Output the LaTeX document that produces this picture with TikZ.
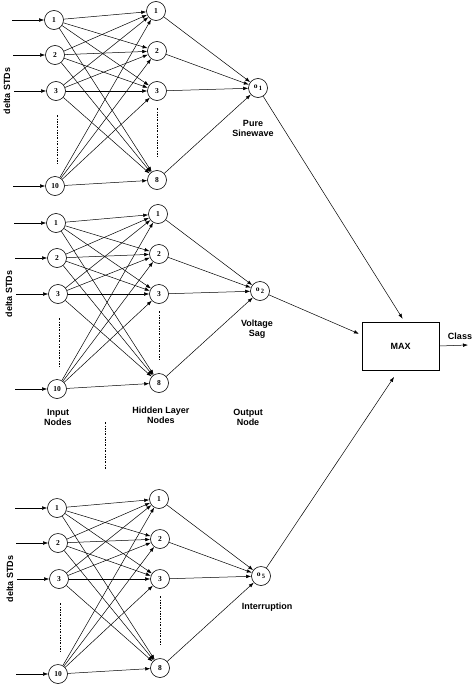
\documentclass[tikz,border=0pt]{standalone}
\usepackage{fontspec}
\setmainfont{Liberation Serif}
\setsansfont{Liberation Sans}
\usetikzlibrary{arrows.meta,calc}
\begin{document}
\begin{tikzpicture}[x=1pt,y=-1pt,
  neuron/.style={circle,draw,line width=0.6pt,minimum size=19pt,inner sep=0pt,font=\fontsize{7.5}{8}\selectfont\bfseries},
  conn/.style={line width=0.5pt,-{Latex[length=5pt,width=3.6pt]}},
  lab/.style={font=\fontsize{9}{10}\selectfont\sffamily\bfseries,align=center,inner sep=0pt},
  dots/.style={line width=0.6pt,dash pattern=on 2pt off 1.5pt on 0.6pt off 1.5pt}]
\useasboundingbox (0,0) rectangle (474,685);
\fill[white] (0,0) rectangle (474,685);

\foreach \b/\dx/\dy/\os in {1/0/0/1, 2/2/203/2, 3/3/488/5} {
  \begin{scope}[shift={(\dx,\dy)}]
    \node[neuron] (i\b-1) at (54,20) {1};
    \node[neuron] (i\b-2) at (55,55) {2};
    \node[neuron] (i\b-3) at (56,91) {3};
    \node[neuron] (i\b-10) at (55,186) {10};
    \node[neuron] (h\b-1) at (156,11) {1};
    \node[neuron] (h\b-2) at (157,51) {2};
    \node[neuron] (h\b-3) at (157,91) {3};
    \node[neuron] (h\b-8) at (157,180) {8};
    \node[neuron] (o\b) at (258,88) {\raisebox{1pt}{o}\,\raisebox{-1pt}{\fontsize{6.5}{7}\selectfont\os}};
    \node[lab,rotate=90] (d\b) at (7,91) {delta STDs};
    \draw[dots] (57,115) -- (57,165);
    \draw[dots] (157,108) -- (157,158);
    \foreach \a in {1,2,3,10} {
      \path (i\b-\a.west) ++(-32,0) coordinate (s\b-\a);
      \draw[conn] (s\b-\a) -- (i\b-\a);
      \foreach \h in {1,2,3,8} {
        \draw[conn] (i\b-\a) -- (h\b-\h);
      }
    }
    \foreach \h in {1,2,3,8} {
      \draw[conn] (h\b-\h) -- (o\b);
    }
  \end{scope}
}

\node[lab] (l1) at (253,128) {Pure\\Sinewave};
\node[lab] (l2) at (257,329) {Voltage\\Sag};
\node[lab] (l3) at (267,607) {Interruption};
\node[lab] (l4) at (58,417) {Input\\Nodes};
\node[lab] (l5) at (161,415) {Hidden Layer\\Nodes};
\node[lab] (l6) at (248,417) {Output\\Node};
\draw[dots] (105,422) -- (105,470);

\node[draw,line width=0.6pt,minimum width=77pt,minimum height=48pt,inner sep=0pt,font=\fontsize{9}{10}\selectfont\sffamily\bfseries] (max) at (400.5,346) {MAX};
\draw[conn,shorten >=3.5pt] (o1) -- ($(max.north)+(4,0)$);
\draw[conn,shorten >=3pt] (o2) -- ([yshift=11pt]max.west);
\draw[conn,shorten >=8pt] (o3) -- ([xshift=-2pt]max.south);
\coordinate (cls) at (468,345);
\draw[conn] (max.east) -- (cls);
\node[lab] (clsl) at (460,336) {Class};
\end{tikzpicture}
\end{document}
